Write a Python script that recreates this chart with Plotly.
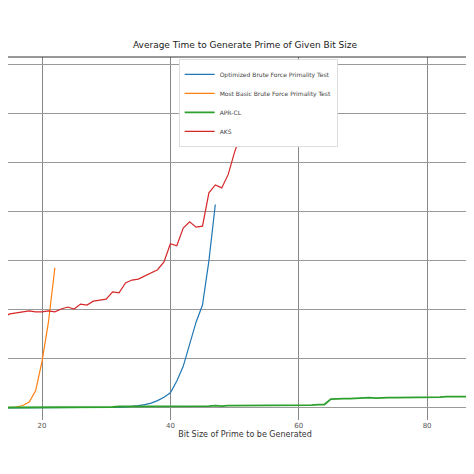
import plotly.graph_objects as go

bits = list(range(14, 88))

opt_bits = list(range(14, 48))
opt_time = [0, 0, 0, 0, 0, 0, 0, 0, 0, 0, 0, 0, 0.005, 0.005, 0.01, 0.01, 0.01, 0.015, 0.015,
            0.02, 0.03, 0.05, 0.07, 0.1, 0.15, 0.22, 0.31, 0.55, 0.85, 1.3, 1.75, 2.1, 3.0, 4.15]

basic_bits = list(range(14, 23))
basic_time = [0, 0.01, 0.02, 0.05, 0.12, 0.35, 0.95, 1.75, 2.86]

aprcl_time = [0.01, 0.01, 0.01, 0.01, 0.01, 0.01, 0.01, 0.01, 0.01, 0.01, 0.01, 0.01, 0.02, 0.02,
              0.02, 0.02, 0.02, 0.02, 0.03, 0.03, 0.03, 0.03, 0.03, 0.03, 0.04, 0.04, 0.04, 0.04,
              0.04, 0.04, 0.04, 0.04, 0.04, 0.05, 0.04, 0.05, 0.05, 0.05, 0.05, 0.05, 0.05, 0.05,
              0.06, 0.06, 0.06, 0.06, 0.06, 0.06, 0.06, 0.07, 0.07, 0.18, 0.19, 0.19, 0.19, 0.2,
              0.2, 0.21, 0.2, 0.21, 0.21, 0.21, 0.21, 0.21, 0.22, 0.22, 0.22, 0.22, 0.22, 0.23,
              0.23, 0.23, 0.23, 0.23]

aks_bits = list(range(14, 53))
aks_time = [1.86, 1.92, 1.94, 1.96, 1.98, 1.96, 1.96, 1.98, 1.96, 2.02, 2.06, 2.02, 2.12, 2.10,
            2.18, 2.20, 2.22, 2.37, 2.35, 2.55, 2.61, 2.63, 2.69, 2.76, 2.82, 2.98, 3.35, 3.31,
            3.67, 3.80, 3.69, 3.71, 4.39, 4.55, 4.49, 4.76, 5.22, 5.59, 5.49]

fig = go.Figure()
fig.add_trace(go.Scatter(x=opt_bits, y=opt_time, mode='lines', name='Optimized Brute Force Primality Test',
                         line=dict(color='#1f77b4', width=1.2)))
fig.add_trace(go.Scatter(x=basic_bits, y=basic_time, mode='lines', name='Most Basic Brute Force Primality Test',
                         line=dict(color='#ff7f0e', width=1.2)))
fig.add_trace(go.Scatter(x=bits, y=aprcl_time, mode='lines', name='APR-CL',
                         line=dict(color='#2ca02c', width=1.8)))
fig.add_trace(go.Scatter(x=aks_bits, y=aks_time, mode='lines', name='AKS',
                         line=dict(color='#d62728', width=1.2)))

fig.update_layout(
    width=474, height=474,
    margin=dict(l=0, r=0, t=49, b=62, autoexpand=False),
    plot_bgcolor='white', paper_bgcolor='white',
    font=dict(family='DejaVu Sans', size=8, color='#333'),
    title=dict(text='Average Time to Generate Prime of Given Bit Size', x=0.5, xanchor='center',
               y=1 - 40 / 474, yanchor='bottom', font=dict(size=9, color='#222')),
    legend=dict(x=0.36, y=0.995, xanchor='left', yanchor='top', bgcolor='white',
                bordercolor='#ddd', borderwidth=1, font=dict(size=6, color='#444'),
                tracegroupgap=0, itemwidth=30),
    showlegend=True,
)
fig.update_xaxes(range=[14.7, 88.55], tickvals=[20, 40, 60, 80], showgrid=True, gridcolor='#888',
                 gridwidth=1, zeroline=False, ticks='', tickfont=dict(size=7, color='#555'),
                 title=dict(text='Bit Size of Prime to be Generated', font=dict(size=8, color='#333'),
                            standoff=2))
fig.update_yaxes(range=[-0.245, 7.16], dtick=1, showgrid=True, gridcolor='#999', gridwidth=1,
                 zeroline=False, showticklabels=False)
fig.add_shape(type='line', xref='paper', yref='paper', x0=0, x1=1, y0=1, y1=1,
              line=dict(color='#333', width=1))

fig.write_html("out.html")
